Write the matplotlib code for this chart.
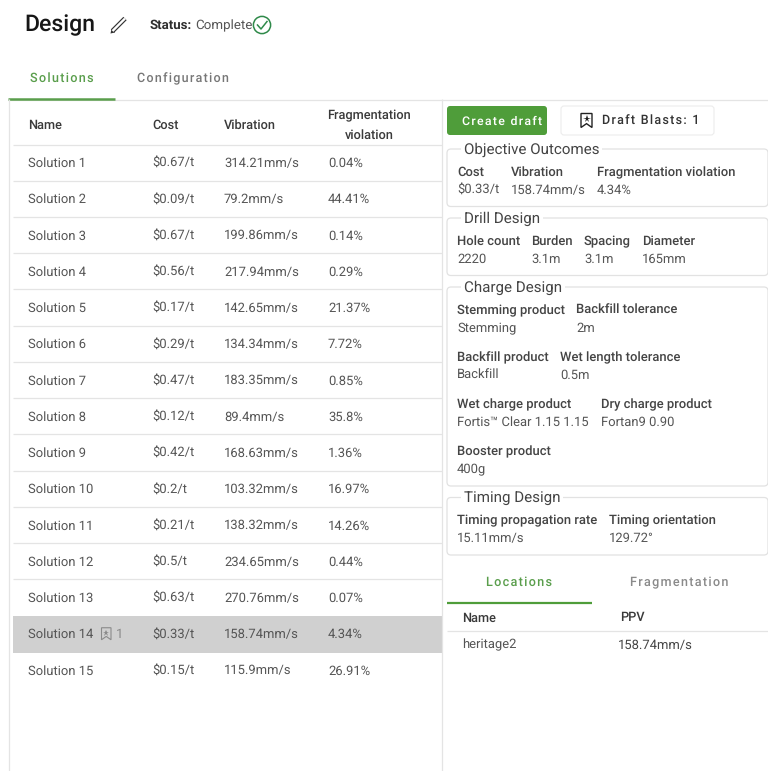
#!/usr/bin/env python3
# Design page: solutions table on the left, details of the chosen solution on the right
import matplotlib
matplotlib.use('Agg')
import matplotlib.pyplot as plt
from matplotlib.patches import Rectangle, FancyBboxPatch, Circle, Polygon

names = ['Solution %d' % i for i in range(1, 16)]
costs = ['$0.67/t', '$0.09/t', '$0.67/t', '$0.56/t', '$0.17/t', '$0.29/t', '$0.47/t', '$0.12/t',
         '$0.42/t', '$0.2/t', '$0.21/t', '$0.5/t', '$0.63/t', '$0.33/t', '$0.15/t']
vibrations = ['314.21mm/s', '79.2mm/s', '199.86mm/s', '217.94mm/s', '142.65mm/s', '134.34mm/s',
              '183.35mm/s', '89.4mm/s', '168.63mm/s', '103.32mm/s', '138.32mm/s', '234.65mm/s',
              '270.76mm/s', '158.74mm/s', '115.9mm/s']
violations = ['0.04%', '44.41%', '0.14%', '0.29%', '21.37%', '7.72%', '0.85%', '35.8%',
              '1.36%', '16.97%', '14.26%', '0.44%', '0.07%', '4.34%', '26.91%']
selected = 13

BODY = '#555555'
HEAD = '#444444'
GREEN = '#4f9d3a'
LINE = '#e4e4e4'

plt.rcParams['font.family'] = ['Roboto', 'DejaVu Sans']
plt.rcParams['text.hinting'] = 'no_hinting'

fig = plt.figure(figsize=(7.68, 7.71), dpi=100)
ax = fig.add_axes([0, 0, 1, 1])
ax.set_xlim(0, 768)
ax.set_ylim(771, 0)
ax.axis('off')


def label(x, y, s, color=BODY, size=9.4, weight='normal', ha='left'):
    # y is the middle of the x-height line, text sits on its baseline
    ax.text(x, y + 4.6, s, color=color, fontsize=size, fontweight=weight, ha=ha, va='baseline')


def spaced(s):
    return '\u200a'.join(s)


def hline(x0, x1, y, color=LINE, lw=0.9):
    ax.plot([x0, x1], [y, y], color=color, lw=lw, solid_capstyle='butt')


def vline(x, y0, y1, color=LINE, lw=0.9):
    ax.plot([x, x], [y0, y1], color=color, lw=lw, solid_capstyle='butt')


def bookmark(x, y, w, h, color, lw=1.0):
    # outline of a bookmark with a small star in it
    pts = [(x, y), (x + w, y), (x + w, y + h), (x + w / 2, y + h - w * 0.35), (x, y + h)]
    ax.add_patch(Polygon(pts, closed=True, fill=False, edgecolor=color, lw=lw))
    ax.plot([x + w / 2], [y + h * 0.42], marker='*', ms=w * 0.5, color=color, mew=0)


def group_box(x0, y0, x1, y1, title):
    ax.add_patch(FancyBboxPatch((x0 + 3, y0 + 3), x1 - x0 - 6, y1 - y0 - 6,
                                boxstyle='round,pad=3,rounding_size=4',
                                fc='white', ec='#e2e2e2', lw=0.9))
    ax.text(x0 + 17, y0 + 4.8, title, color=HEAD, fontsize=10.9, ha='left', va='baseline',
            bbox=dict(fc='white', ec='none', pad=2))


# page header
label(24, 26.5, 'Design', color='#161616', size=16.6, weight='medium')
ax.plot([112.5, 125], [31, 18.5], color='#333333', lw=3.4, solid_capstyle='butt')
ax.plot([112.5, 125], [31, 18.5], color='white', lw=1.7, solid_capstyle='butt')
ax.add_patch(Polygon([(110.5, 33.5), (111.5, 29), (115, 32.5)], closed=True, fc='#333333', ec='none'))
label(150, 24.5, 'Status:', color='#2e2e2e', size=9.5, weight='bold')
label(195, 24.5, 'Complete', size=9.6)
ax.add_patch(Circle((262, 25), 8.6, fill=False, ec='#2f8a4a', lw=1.1))
ax.plot([257.5, 261, 267], [25, 29, 21.5], color='#2f8a4a', lw=1.1)

# main tabs
label(30, 77.3, spaced('Solutions'), color='#5a9e4c', size=9.1, weight='medium')
label(137, 77.3, spaced('Configuration'), color='#777777', size=9.0, weight='medium')
hline(8, 768, 99.5)
hline(8, 115, 98.5, color='#5a9e4c', lw=1.8)
vline(8.5, 99, 771)
vline(442, 99, 771)

# solutions table
label(28, 124.5, 'Name', color='#3a3a3a', size=9.2, weight='medium')
label(152, 124.5, 'Cost', color='#3a3a3a', size=9.2, weight='medium')
label(224, 124.5, 'Vibration', color='#3a3a3a', size=9.2, weight='medium')
label(369, 114.5, 'Fragmentation', color='#3a3a3a', size=9.2, weight='medium', ha='center')
label(369, 134, 'violation', color='#3a3a3a', size=9.2, weight='medium', ha='center')
hline(13, 442, 144.5)

row_h = 36.25
for i, name in enumerate(names):
    y = 162.5 + i * row_h
    if i == selected:
        ax.add_patch(Rectangle((13, y - 18), 429, 36.8, fc='#d0d0d0', ec='none'))
    label(28, y, name)
    label(152, y, costs[i])
    label(224, y, vibrations[i])
    label(328, y, violations[i])
    if i == selected:
        bookmark(101.5, y - 6, 9.5, 12, '#8a8a8a', lw=0.8)
        label(116, y, '1', color='#8a8a8a')
    elif i < len(names) - 1 and i != selected - 1:
        hline(13, 442, y + 18)

# buttons
ax.add_patch(FancyBboxPatch((449, 108), 96, 25, boxstyle='round,pad=2,rounding_size=3', fc=GREEN, ec='none'))
label(502, 120.5, spaced('Create draft'), color='white', size=8.9, weight='medium', ha='center')
ax.add_patch(FancyBboxPatch((563, 108), 149, 25, boxstyle='round,pad=2,rounding_size=3', fc='white', ec='#ececec', lw=0.8))
bookmark(581, 113.5, 11, 14, '#222222', lw=1.0)
label(602, 120.5, spaced('Draft Blasts: 1'), color='#333333', size=9.0, weight='medium')

# objective outcomes
group_box(447, 149, 768, 206.5, 'Objective Outcomes')
label(457, 171.3, 'Cost', color=HEAD, weight='medium')
label(457, 189.3, '$0.33/t')
label(511, 171.3, 'Vibration', color=HEAD, weight='medium')
label(511, 189.3, '158.74mm/s')
label(597, 171.3, 'Fragmentation violation', color=HEAD, weight='medium')
label(597, 189.3, '4.34%')

# drill design
group_box(447, 218, 768, 275.5, 'Drill Design')
label(457, 240.3, 'Hole count', color=HEAD, weight='medium')
label(457, 258.3, '2220')
label(531, 240.3, 'Burden', color=HEAD, weight='medium')
label(531, 258.3, '3.1m')
label(584, 240.3, 'Spacing', color=HEAD, weight='medium')
label(584, 258.3, '3.1m')
label(642, 240.3, 'Diameter', color=HEAD, weight='medium')
label(642, 258.3, '165mm')

# charge design
group_box(447, 287, 768, 486, 'Charge Design')
label(457, 309.3, 'Stemming product', color=HEAD, weight='medium')
label(457, 327.3, 'Stemming')
label(576, 309.3, 'Backfill tolerance', color=HEAD, weight='medium')
label(576, 327.3, '2m')
label(457, 356.3, 'Backfill product', color=HEAD, weight='medium')
label(457, 374.3, 'Backfill')
label(560, 356.3, 'Wet length tolerance', color=HEAD, weight='medium')
label(560, 374.3, '0.5m')
label(457, 403.3, 'Wet charge product', color=HEAD, weight='medium')
label(457, 421.3, 'Fortis™ Clear 1.15 1.15')
label(601, 403.3, 'Dry charge product', color=HEAD, weight='medium')
label(601, 421.3, 'Fortan9 0.90')
label(457, 450.3, 'Booster product', color=HEAD, weight='medium')
label(457, 468.3, '400g')

# timing design
group_box(447, 497.5, 768, 555, 'Timing Design')
label(457, 519.8, 'Timing propagation rate', color=HEAD, weight='medium')
label(457, 537.8, '15.11mm/s')
label(609, 519.8, 'Timing orientation', color=HEAD, weight='medium')
label(609, 537.8, '129.72°')

# lower tabs and locations table
label(519, 581.3, spaced('Locations'), color='#5a9e4c', size=9.1, weight='medium', ha='center')
label(679, 581.3, spaced('Fragmentation'), color='#8a8a8a', size=9.1, weight='medium', ha='center')
hline(447, 592, 602.5, color='#4f9d3a', lw=1.6)
label(462, 616.8, 'Name', color='#3a3a3a', size=9.2, weight='medium')
label(620, 616.8, 'PPV', color='#3a3a3a', size=9.2, weight='medium')
hline(447, 768, 630.5)
label(462, 644, 'heritage2')
label(618, 644.6, '158.74mm/s', color=HEAD)

fig.savefig('out.png', dpi=100, facecolor='white')
